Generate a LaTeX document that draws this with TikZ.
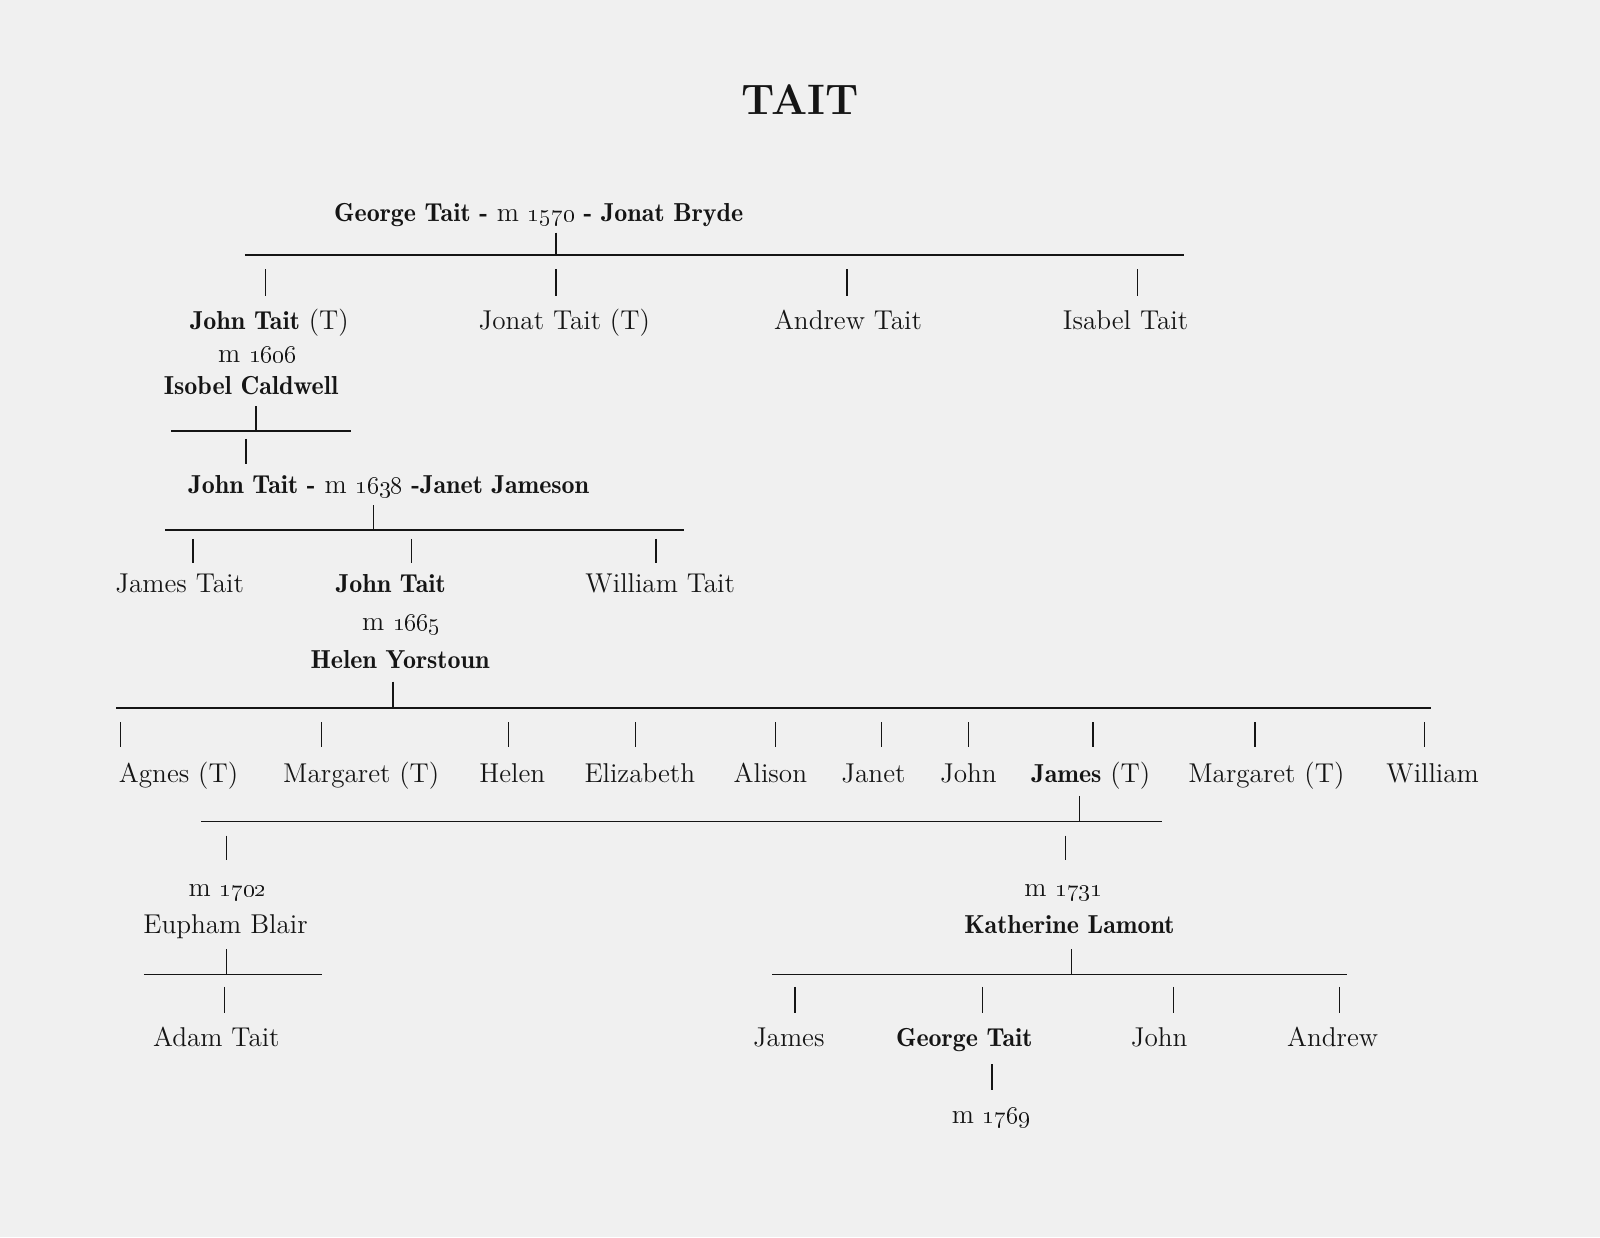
\documentclass[tikz,border=0pt]{standalone}
\definecolor{bgc}{HTML}{F0F0F0}
\definecolor{ink}{HTML}{151515}
\tikzset{
  nm/.style={inner sep=0pt, text=ink, font=\fontsize{13.6}{16}\selectfont, anchor=base},
  bnm/.style={nm, font=\fontsize{13}{15}\fontseries{b}\selectfont},
  ln/.style={draw=ink, line width=0.95pt},
  tk/.style={draw=ink, line width=0.65pt}
}
\newcommand{\yr}[1]{{\fontsize{12.2}{14}\selectfont\oldstylenums{#1}}}
\newcommand{\bb}[1]{{\fontsize{13}{15}\fontseries{b}\selectfont #1}}
\begin{document}
\begin{tikzpicture}[x=0.5102pt,y=-0.5102pt]
\fill[bgc] (0,0) rectangle (1568,1212.3);
\useasboundingbox (0,0) rectangle (1568,1212.3);
% title
\node[nm, font=\fontsize{21.3}{24}\selectfont\bfseries] (title) at (784,112) {TAIT};
% generation 1
\node[nm] (g1) at (528,217) {\bb{George Tait -} m \yr{1570} \bb{- Jonat Bryde}};
\coordinate (g1v) at (545,228); \coordinate (g1b) at (545,250);
\coordinate (g1l) at (240,250); \coordinate (g1r) at (1160,250);
\draw[tk] (g1v) -- (g1b);
\draw[ln] (g1l) -- (g1r);
\node[nm] (c11) at (264,323) {\bb{John Tait} (T)};
\node[nm] (c12) at (553,323) {Jonat Tait (T)};
\node[nm] (c13) at (831,323) {Andrew Tait};
\node[nm] (c14) at (1103,323) {Isabel Tait};
\foreach \x/\n in {260/c11,545/c12,830/c13,1115/c14}{
  \coordinate (t\n a) at (\x,264); \coordinate (t\n b) at (\x,290);
  \draw[tk] (t\n a) -- (t\n b);
}
\node[nm] (m1606) at (252,355) {m \yr{1606}};
\node[bnm] (isobel) at (246,387) {Isobel Caldwell};
\coordinate (i1) at (251,398); \coordinate (i2) at (251,422);
\coordinate (i3) at (168,422); \coordinate (i4) at (344,422);
\draw[tk] (i1) -- (i2); \draw[ln] (i3) -- (i4);
\coordinate (i5) at (241,430); \coordinate (i6) at (241,455);
\draw[tk] (i5) -- (i6);
% generation 3
\node[nm] (g3) at (381,484) {\bb{John Tait -} m \yr{1638} \bb{-Janet Jameson}};
\coordinate (g3v) at (366,495); \coordinate (g3b) at (366,519);
\coordinate (g3l) at (162,519); \coordinate (g3r) at (670,519);
\draw[tk] (g3v) -- (g3b); \draw[ln] (g3l) -- (g3r);
\node[nm] (c31) at (176,581) {James Tait};
\node[bnm] (c32) at (383,581) {John Tait};
\node[nm] (c33) at (647,581) {William Tait};
\foreach \x/\n in {189/c31,403/c32,643/c33}{
  \coordinate (t\n a) at (\x,528); \coordinate (t\n b) at (\x,552);
  \draw[tk] (t\n a) -- (t\n b);
}
\node[nm] (m1665) at (393,618) {m \yr{1665}};
\node[bnm] (helen) at (392,655) {Helen Yorstoun};
% generation 4
\coordinate (g4v) at (385,668); \coordinate (g4b) at (385,694);
\coordinate (g4l) at (114,694); \coordinate (g4r) at (1402,694);
\draw[tk] (g4v) -- (g4b); \draw[ln] (g4l) -- (g4r);
\node[nm] (c41) at (175,767) {Agnes (T)};
\node[nm] (c42) at (354,767) {Margaret (T)};
\node[nm] (c43) at (502,767) {Helen};
\node[nm] (c44) at (627,767) {Elizabeth};
\node[nm] (c45) at (755,767) {Alison};
\node[nm] (c46) at (856,767) {Janet};
\node[nm] (c47) at (949,767) {John};
\node[nm] (c48) at (1069,767) {\bb{James} (T)};
\node[nm] (c49) at (1241,767) {Margaret (T)};
\node[nm] (c410) at (1404,767) {William};
\foreach \x/\n in {118/c41,315/c42,498/c43,623/c44,760/c45,864/c46,949/c47,1071/c48,1230/c49,1396/c410}{
  \coordinate (t\n a) at (\x,708); \coordinate (t\n b) at (\x,732);
  \draw[tk] (t\n a) -- (t\n b);
}
% James / Agnes line
\coordinate (g5v) at (1058,780); \coordinate (g5b) at (1058,805);
\coordinate (g5l) at (197,805); \coordinate (g5r) at (1139,805);
\draw[tk] (g5v) -- (g5b); \draw[ln] (g5l) -- (g5r);
\coordinate (ta1) at (222,819); \coordinate (ta2) at (222,843);
\coordinate (tj1) at (1044,819); \coordinate (tj2) at (1044,843);
\draw[tk] (ta1) -- (ta2); \draw[tk] (tj1) -- (tj2);
% Agnes branch
\node[nm] (m1702) at (223,879) {m \yr{1702}};
\node[nm] (eupham) at (221,915) {Eupham Blair};
\coordinate (e1) at (222,930); \coordinate (e2) at (222,955);
\coordinate (e3) at (141,955); \coordinate (e4) at (316,955);
\draw[tk] (e1) -- (e2); \draw[ln] (e3) -- (e4);
\coordinate (e5) at (220,967); \coordinate (e6) at (220,993);
\draw[tk] (e5) -- (e6);
\node[nm] (adam) at (212,1026) {Adam Tait};
% James branch
\node[nm] (m1731) at (1042,879) {m \yr{1731}};
\node[bnm] (kath) at (1048,915) {Katherine Lamont};
\coordinate (k1) at (1050,930); \coordinate (k2) at (1050,955);
\coordinate (k3) at (757,955); \coordinate (k4) at (1320,955);
\draw[tk] (k1) -- (k2); \draw[ln] (k3) -- (k4);
\node[nm] (c61) at (773,1026) {James};
\node[bnm] (c62) at (945,1026) {George Tait};
\node[nm] (c63) at (1136,1026) {John};
\node[nm] (c64) at (1306,1026) {Andrew};
\foreach \x/\n in {779/c61,963/c62,1150/c63,1313/c64}{
  \coordinate (t\n a) at (\x,967); \coordinate (t\n b) at (\x,993);
  \draw[tk] (t\n a) -- (t\n b);
}
\coordinate (gg1) at (972,1043); \coordinate (gg2) at (972,1068);
\draw[tk] (gg1) -- (gg2);
\node[nm] (m1769) at (971,1101) {m \yr{1769}};
\end{tikzpicture}
\end{document}
